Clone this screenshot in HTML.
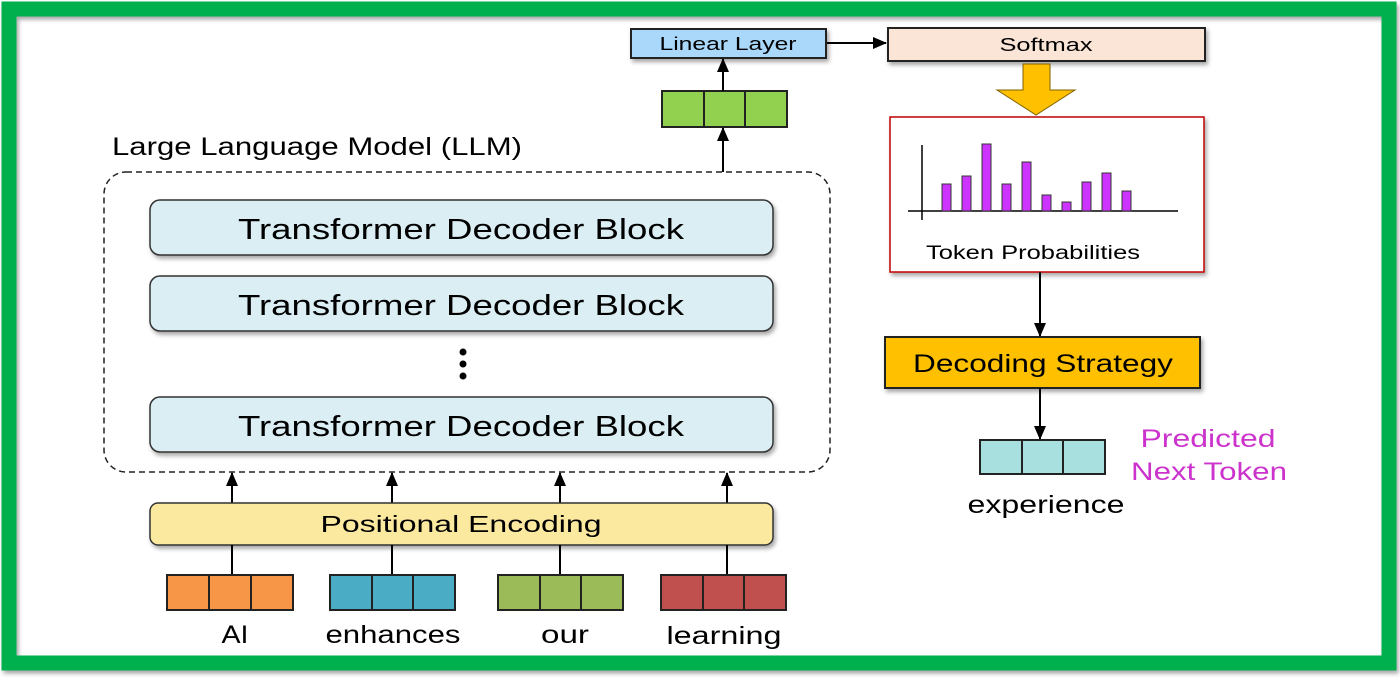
<!DOCTYPE html>
<html><head><style>
html,body{margin:0;padding:0;background:#fff;}
svg{display:block;font-family:"Liberation Sans",sans-serif;}
</style></head><body>
<svg width="1400" height="681" viewBox="0 0 1400 681" xmlns="http://www.w3.org/2000/svg">
<defs>
<marker id="ah" markerWidth="14" markerHeight="12" refX="13" refY="6" orient="auto" markerUnits="userSpaceOnUse"><path d="M0,0 L14,6 L0,12 z" fill="#000"/></marker>
<filter id="sh" x="-5%" y="-5%" width="115%" height="130%"><feDropShadow dx="2" dy="3" stdDeviation="2" flood-opacity="0.35"/></filter>
</defs>
<rect x="0" y="0" width="1400" height="681" fill="#fff"/>
<rect x="9" y="9" width="1380" height="654" fill="none" stroke="#00b050" stroke-width="15" filter="url(#sh)"/>
<rect x="631" y="29" width="195" height="29" fill="#aad8fb" stroke="#222" stroke-width="2" filter="url(#sh)"/>
<text x="728" y="50" font-size="18" text-anchor="middle" textLength="137" lengthAdjust="spacingAndGlyphs">Linear Layer</text>
<line x1="827" y1="43" x2="886" y2="43" stroke="#000" stroke-width="2" marker-end="url(#ah)"/>
<rect x="888" y="28" width="317" height="33" fill="#fbe5d6" stroke="#222" stroke-width="2" filter="url(#sh)"/>
<text x="1046" y="51" font-size="18" text-anchor="middle" textLength="93" lengthAdjust="spacingAndGlyphs">Softmax</text>
<path d="M1023,64 L1050,64 L1050,90 L1075,90 L1036,115 L997,90 L1023,90 z" fill="#ffc000" stroke="#7f6000" stroke-width="1"/>
<g stroke="#222" stroke-width="2" fill="#92d050"><rect x="662" y="91" width="42" height="36"/><rect x="704" y="91" width="41" height="36"/><rect x="745" y="91" width="42" height="36"/></g>
<line x1="723" y1="91" x2="723" y2="59" stroke="#000" stroke-width="2" marker-end="url(#ah)"/>
<line x1="723" y1="172" x2="723" y2="128" stroke="#000" stroke-width="2" marker-end="url(#ah)"/>
<rect x="890" y="117" width="314" height="155" fill="#fff" stroke="#c00000" stroke-width="1.5" filter="url(#sh)"/>
<line x1="922" y1="145" x2="922" y2="220" stroke="#000" stroke-width="1.5"/>
<line x1="908" y1="211" x2="1178" y2="211" stroke="#000" stroke-width="1.5"/>
<g fill="#cc33ff" stroke="#333" stroke-width="1">
<rect x="942" y="184" width="9" height="27"/><rect x="962" y="176" width="9" height="35"/><rect x="982" y="144" width="9" height="67"/><rect x="1002" y="184" width="9" height="27"/><rect x="1022" y="162" width="9" height="49"/><rect x="1042" y="195" width="9" height="16"/><rect x="1062" y="202" width="9" height="9"/><rect x="1082" y="182" width="9" height="29"/><rect x="1102" y="173" width="9" height="38"/><rect x="1122" y="191" width="9" height="20"/>
</g>
<text x="1033" y="259" font-size="19" text-anchor="middle" textLength="214" lengthAdjust="spacingAndGlyphs">Token Probabilities</text>
<line x1="1040" y1="272" x2="1040" y2="336" stroke="#000" stroke-width="2" marker-end="url(#ah)"/>
<rect x="885" y="337" width="315" height="51" fill="#ffc000" stroke="#222" stroke-width="2" filter="url(#sh)"/>
<text x="1043" y="372" font-size="25" text-anchor="middle" textLength="260" lengthAdjust="spacingAndGlyphs">Decoding Strategy</text>
<line x1="1040" y1="388" x2="1040" y2="439" stroke="#000" stroke-width="2" marker-end="url(#ah)"/>
<g stroke="#222" stroke-width="2" fill="#a8e0e0"><rect x="980" y="440" width="42" height="34"/><rect x="1022" y="440" width="41" height="34"/><rect x="1063" y="440" width="42" height="34"/></g>
<text x="1046" y="513" font-size="25" text-anchor="middle" textLength="157" lengthAdjust="spacingAndGlyphs">experience</text>
<text x="1208" y="447" font-size="25" fill="#cc33cc" text-anchor="middle" textLength="135" lengthAdjust="spacingAndGlyphs">Predicted</text>
<text x="1209" y="480" font-size="25" fill="#cc33cc" text-anchor="middle" textLength="156" lengthAdjust="spacingAndGlyphs">Next Token</text>
<text x="112" y="155" font-size="25" textLength="410" lengthAdjust="spacingAndGlyphs">Large Language Model (LLM)</text>
<rect x="104" y="172" width="726" height="300" rx="22" fill="none" stroke="#222" stroke-width="1.5" stroke-dasharray="6,4"/>
<g fill="#daeef3" stroke="#333" stroke-width="1.5" filter="url(#sh)">
<rect x="150" y="200" width="623" height="55" rx="10"/>
<rect x="150" y="276" width="623" height="55" rx="10"/>
<rect x="150" y="397" width="623" height="55" rx="10"/>
</g>
<g font-size="29" text-anchor="middle">
<text x="461" y="239" textLength="446" lengthAdjust="spacingAndGlyphs">Transformer Decoder Block</text>
<text x="461" y="315" textLength="446" lengthAdjust="spacingAndGlyphs">Transformer Decoder Block</text>
<text x="461" y="436" textLength="446" lengthAdjust="spacingAndGlyphs">Transformer Decoder Block</text>
</g>
<g fill="#000"><circle cx="463" cy="352" r="3.5"/><circle cx="463" cy="364" r="3.5"/><circle cx="463" cy="376" r="3.5"/></g>
<g stroke="#000" stroke-width="2" marker-end="url(#ah)">
<line x1="232" y1="503" x2="232" y2="473"/><line x1="392" y1="503" x2="392" y2="473"/><line x1="560" y1="503" x2="560" y2="473"/><line x1="727" y1="503" x2="727" y2="473"/>
</g>
<rect x="150" y="503" width="623" height="42" rx="8" fill="#fce9a0" stroke="#333" stroke-width="1.5" filter="url(#sh)"/>
<text x="461" y="532" font-size="23" text-anchor="middle" textLength="281" lengthAdjust="spacingAndGlyphs">Positional Encoding</text>
<g stroke="#000" stroke-width="2">
<line x1="232" y1="545" x2="232" y2="575"/><line x1="392" y1="545" x2="392" y2="575"/><line x1="560" y1="545" x2="560" y2="575"/><line x1="727" y1="545" x2="727" y2="575"/>
</g>
<g stroke="#222" stroke-width="2">
<g fill="#f79646"><rect x="167" y="575" width="42" height="35"/><rect x="209" y="575" width="42" height="35"/><rect x="251" y="575" width="42" height="35"/></g>
<g fill="#4bacc6"><rect x="330" y="575" width="42" height="35"/><rect x="372" y="575" width="41" height="35"/><rect x="413" y="575" width="42" height="35"/></g>
<g fill="#9bbb59"><rect x="498" y="575" width="42" height="35"/><rect x="540" y="575" width="41" height="35"/><rect x="581" y="575" width="42" height="35"/></g>
<g fill="#c0504d"><rect x="661" y="575" width="42" height="35"/><rect x="703" y="575" width="41" height="35"/><rect x="744" y="575" width="42" height="35"/></g>
</g>
<g font-size="25" text-anchor="middle">
<text x="235" y="643" textLength="27" lengthAdjust="spacingAndGlyphs">AI</text>
<text x="393" y="643" textLength="135" lengthAdjust="spacingAndGlyphs">enhances</text>
<text x="565" y="643" textLength="48" lengthAdjust="spacingAndGlyphs">our</text>
<text x="724" y="644" textLength="115" lengthAdjust="spacingAndGlyphs">learning</text>
</g>
</svg>
</body></html>
